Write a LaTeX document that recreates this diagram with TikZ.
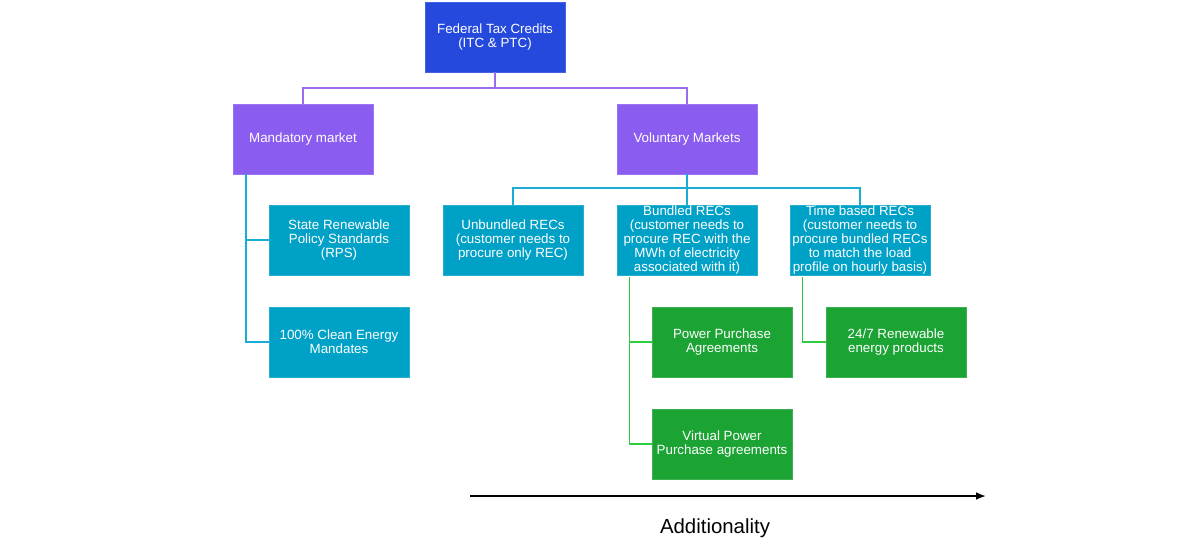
\documentclass[tikz,border=0pt]{standalone}
\usepackage{fontspec}
\setmainfont{Liberation Sans}
\usetikzlibrary{calc,arrows.meta}
\definecolor{fedblue}{RGB}{36,73,220}
\definecolor{mktpurple}{RGB}{139,92,240}
\definecolor{lnpurple}{RGB}{156,108,240}
\definecolor{recteal}{RGB}{0,161,199}
\definecolor{lnteal}{RGB}{26,172,212}
\definecolor{prodgreen}{RGB}{27,163,51}
\definecolor{lngreen}{RGB}{46,204,64}
\begin{document}
\begin{tikzpicture}[x=0.025cm, y=-0.025cm,
  box/.style={draw=#1!85!white, fill=#1, text=white, minimum width=3.5cm, minimum height=1.75cm,
    align=center, inner xsep=1pt, inner ysep=0pt, font=\fontsize{9.5}{10.2}\selectfont},
  tight/.style={font=\fontsize{9.5}{9.85}\selectfont},
  purpleline/.style={draw=lnpurple, line width=1.2pt},
  tealline/.style={draw=lnteal, line width=1.2pt},
  greenline/.style={draw=lngreen, line width=1pt}]
  \useasboundingbox (0,0) rectangle (1200,554);
  % top level
  \node[box=fedblue] (fed) at (495,37) {Federal Tax Credits\\(ITC \& PTC)};
  \node[box=mktpurple] (mand) at (303,139) {Mandatory market};
  \node[box=mktpurple] (vol) at (687,139) {Voluntary Markets};
  \draw[purpleline] (fed.south) -- ++(0,16) coordinate (fbus);
  \draw[purpleline] (mand.north) |- (fbus) -| (vol.north);
  % mandatory side
  \node[box=recteal] (rps) at (339,240) {State Renewable\\Policy Standards\\(RPS)};
  \node[box=recteal] (clean) at (339,342) {100\% Clean Energy\\Mandates};
  \draw[tealline] ($(mand.south west)+(13,0)$) |- (clean.west);
  \draw[tealline] ($(mand.south west)+(13,0)$) |- (rps.west);
  % voluntary side
  \node[box=recteal] (unb) at (513,240) {Unbundled RECs\\(customer needs to\\procure only REC)};
  \node[box=recteal, tight] (bund) at (687,240) {Bundled RECs\\(customer needs to\\procure REC with the\\MWh of electricity\\associated with it)};
  \node[box=recteal, tight] (tbased) at (860,240) {Time based RECs\\(customer needs to\\procure bundled RECs\\to match the load\\profile on hourly basis)};
  \draw[tealline] (vol.south) -- (bund.north);
  \coordinate (vbus) at ($(vol.south)+(0,14)$);
  \draw[tealline] (unb.north) |- (vbus) -| (tbased.north);
  % products
  \node[box=prodgreen] (ppa) at (722,342) {Power Purchase\\Agreements};
  \node[box=prodgreen] (vppa) at (722,444) {Virtual Power\\Purchase agreements};
  \node[box=prodgreen] (rnw) at (896,342) {24/7 Renewable\\energy products};
  \draw[greenline] ($(bund.south west)+(13,2)$) |- (vppa.west);
  \draw[greenline] ($(bund.south west)+(13,2)$) |- (ppa.west);
  \draw[greenline] ($(tbased.south west)+(13,2)$) |- (rnw.west);
  % additionality axis
  \coordinate (axstart) at (470,496);
  \coordinate (axend) at (986,496);
  \draw[-{Latex[length=7pt,width=5.5pt]}, line width=1.3pt] (axstart) -- (axend);
  \node[font=\fontsize{14.5}{16}\selectfont] (addl) at (715,528) {Additionality};
\end{tikzpicture}
\end{document}
